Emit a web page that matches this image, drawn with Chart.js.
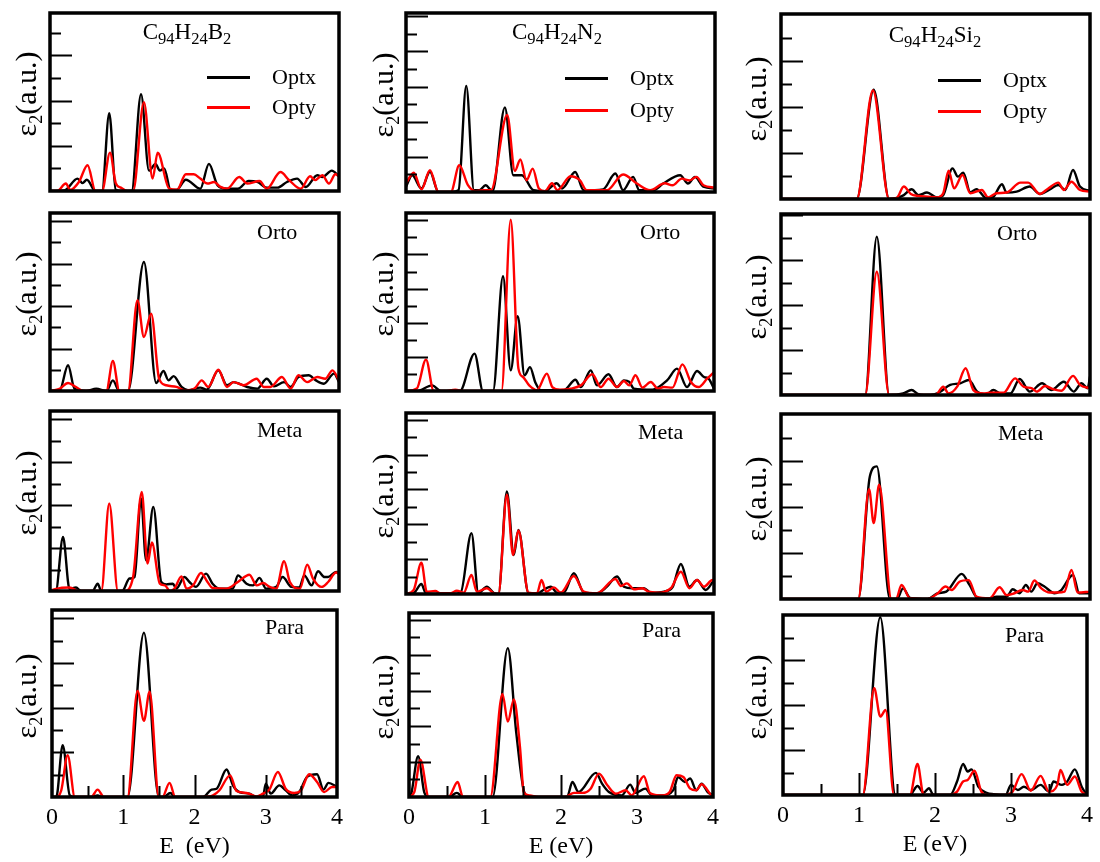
<!DOCTYPE html>
<html>
<head>
<meta charset="utf-8">
<script src="https://cdn.jsdelivr.net/npm/chart.js@4.4.1/dist/chart.umd.min.js"></script>
<style>
  body { margin: 0; background: #fff; width: 1100px; height: 862px; overflow: hidden; position: relative;
         font-family: "Liberation Serif", "Times New Roman", serif; color: #000; }
  canvas { position: absolute; }
  .lbl { position: absolute; white-space: nowrap; line-height: 1; }
  .ylab { font-size: 30px; transform: translate(-50%, -50%) rotate(-90deg); }
  .ttl { font-size: 23px; transform: translate(-50%, -50%); }
  .tag { font-size: 22px; transform: translateY(-50%); }
  sub { font-size: 0.72em; vertical-align: -0.35em; line-height: 0; }
  .ylab sub { font-size: 0.6em; }
  .leg { position: absolute; height: 3px; }
</style>
</head>
<body>
<script>
// eps2 spectra: [energy (eV), eps2 (a.u.)]
const b2TopOptx = [[0,0],[0.2,0.02],[0.38,0.55],[0.45,0.35],[0.51,0.5],[0.63,0],[0.72,0],[0.82,3.44],[0.91,0.05],[1.0,0],[1.13,0],[1.26,4.28],[1.37,0.9],[1.46,1.2],[1.52,0.9],[1.58,1.0],[1.67,0.05],[1.75,0.05],[1.88,0.5],[2.08,0.1],[2.2,1.2],[2.32,0.25],[2.45,0.1],[2.6,0.1],[2.75,0.45],[2.87,0.4],[3.0,0.15],[3.15,0.15],[3.28,0.4],[3.42,0.55],[3.54,0.18],[3.7,0.7],[3.77,0.62],[3.9,0.9],[4.0,0.65]];
const b2TopOpty = [[0,0],[0.1,0],[0.22,0.33],[0.28,0.05],[0.4,0.4],[0.52,1.14],[0.63,0],[0.72,0],[0.83,1.7],[0.91,0.35],[0.98,0.15],[1.07,0],[1.15,0],[1.3,3.93],[1.42,0.55],[1.49,1.69],[1.65,0.1],[1.76,0.06],[1.88,0.74],[1.99,0.74],[2.08,0.55],[2.18,0.33],[2.27,0.4],[2.36,0.18],[2.45,0.1],[2.62,0.62],[2.73,0.33],[2.9,0.44],[3.0,0.1],[3.19,0.84],[3.31,0.48],[3.47,0.1],[3.6,0.65],[3.67,0.48],[3.77,0.7],[3.86,0.33],[3.95,0.74],[4.0,0.65]];
const b2OrtoOptx = [[0,0],[0.13,0],[0.25,1.21],[0.34,0.1],[0.5,0],[0.64,0.11],[0.78,0],[0.87,0.5],[0.96,0],[1.08,0],[1.3,6.07],[1.47,0.38],[1.57,0.94],[1.64,0.5],[1.71,0.7],[1.82,0.19],[1.92,0.03],[2.08,0.16],[2.17,0.06],[2.33,0.97],[2.45,0.27],[2.54,0.42],[2.73,0.19],[2.87,0.11],[3.0,0.58],[3.1,0.22],[3.24,0.42],[3.33,0.19],[3.44,0.66],[3.58,0.74],[3.68,0.5],[3.79,0.34],[3.93,0.82],[4.0,0.42]];
const b2OrtoOpty = [[0,0],[0.13,0.1],[0.25,0.38],[0.36,0.19],[0.46,0],[0.78,0],[0.87,1.41],[0.96,0],[1.08,0],[1.21,4.27],[1.3,2.54],[1.4,3.64],[1.51,0.58],[1.61,0.27],[1.75,0.19],[1.87,0.03],[2.0,0.11],[2.1,0.5],[2.19,0.19],[2.33,1.0],[2.45,0.19],[2.54,0.42],[2.68,0.27],[2.86,0.58],[2.96,0.19],[3.05,0.19],[3.21,0.66],[3.33,0.11],[3.44,0.74],[3.56,0.42],[3.7,0.66],[3.81,0.58],[3.91,0.97],[4.0,0.5]];
const b2MetaOptx = [[0,0],[0.08,0],[0.18,2.52],[0.27,0.1],[0.36,0.16],[0.43,0],[0.59,0],[0.66,0.34],[0.71,0],[1.0,0],[1.1,0.58],[1.17,0.65],[1.26,4.31],[1.33,1.43],[1.43,3.92],[1.54,0.42],[1.61,0.31],[1.7,0.34],[1.75,0.11],[1.86,0.65],[1.93,0.42],[2.02,0.19],[2.16,0.81],[2.25,0.34],[2.35,0.11],[2.53,0.11],[2.6,0.73],[2.72,0.34],[2.81,0.26],[2.9,0.61],[2.99,0.11],[3.13,0.19],[3.22,0.65],[3.34,0.19],[3.45,0.16],[3.52,0.73],[3.62,0.26],[3.71,0.92],[3.8,0.65],[3.85,0.65],[3.96,0.89],[4.0,0.8]];
const b2MetaOpty = [[0,0],[0.08,0.1],[0.27,0.16],[0.4,0],[0.71,0],[0.82,4.08],[0.94,0],[1.03,0],[1.15,0.65],[1.27,4.62],[1.35,1.28],[1.41,2.26],[1.52,0.34],[1.59,0.26],[1.66,0],[1.72,0.1],[1.82,0.68],[1.89,0.11],[1.98,0.26],[2.09,0.84],[2.18,0.42],[2.25,0.14],[2.44,0.11],[2.6,0.42],[2.76,0.76],[2.86,0.26],[2.95,0.37],[3.04,0.19],[3.13,0.11],[3.24,1.39],[3.32,0.42],[3.46,0.11],[3.56,1.23],[3.64,0.58],[3.76,0.19],[3.85,0.42],[3.96,0.86],[4.0,0.8]];
const b2ParaOptx = [[0,0],[0.06,0],[0.15,2.32],[0.25,0.07],[0.32,0],[0.55,0],[0.64,0.07],[0.71,0],[1.06,0],[1.29,7.35],[1.5,0],[1.57,0],[1.66,0.18],[1.73,0],[2.12,0],[2.24,0.33],[2.31,0.37],[2.45,1.23],[2.54,0.52],[2.63,0.22],[2.77,0.15],[2.86,0],[2.96,0],[3.0,0.6],[3.07,0.15],[3.19,0.52],[3.28,0.3],[3.37,0.07],[3.47,0.22],[3.58,0.9],[3.72,1.02],[3.81,0.33],[3.88,0.63],[4.0,0.45]];
const b2ParaOpty = [[0,0],[0.06,0],[0.13,0.3],[0.22,1.87],[0.32,0],[0.55,0],[0.64,0.33],[0.73,0],[1.06,0],[1.2,4.75],[1.29,3.41],[1.37,4.71],[1.5,0],[1.55,0],[1.65,0.63],[1.73,0],[2.12,0],[2.26,0.07],[2.35,0.3],[2.5,0.97],[2.59,0.27],[2.73,0.18],[2.87,0.03],[2.96,0.15],[3.05,0.33],[3.17,1.12],[3.28,0.37],[3.4,0.18],[3.49,0.27],[3.61,1.02],[3.72,0.67],[3.82,0.22],[3.93,0.45],[4.0,0.45]];

const n2TopOptx = [[0,0.3],[0.08,0.95],[0.2,0.2],[0.31,1.15],[0.42,0],[0.6,0],[0.68,0.1],[0.78,6.04],[0.88,0.1],[0.95,0.1],[1.03,0.38],[1.12,0.05],[1.28,4.82],[1.39,0.95],[1.5,0.95],[1.65,0.1],[1.8,0.05],[1.95,0.5],[2.02,0.2],[2.19,1.14],[2.3,0.1],[2.55,0.15],[2.71,1.05],[2.81,0.1],[2.94,0.86],[3.02,0.1],[3.2,0.1],[3.33,0.48],[3.55,0.95],[3.65,0.48],[3.74,0.86],[3.85,0.3],[4.0,0.2]];
const n2TopOpty = [[0,0.5],[0.1,1.1],[0.2,0.15],[0.31,1.24],[0.42,0],[0.58,0],[0.69,1.52],[0.8,0.4],[0.9,0.05],[1.0,0.1],[1.1,0.1],[1.31,4.38],[1.41,1.2],[1.48,1.85],[1.56,0.67],[1.64,1.33],[1.72,0.2],[1.8,0.05],[1.89,0.5],[1.96,0.1],[2.13,0.9],[2.25,0.67],[2.34,0.1],[2.6,0.1],[2.81,1.0],[2.99,0.48],[3.16,0.1],[3.35,0.5],[3.45,0.38],[3.57,0.76],[3.67,0.66],[3.76,0.86],[3.85,0.38],[4.0,0.25]];
const n2OrtoOptx = [[0,0],[0.14,0],[0.34,0.33],[0.45,0],[0.7,0],[0.89,2.19],[1.0,0],[1.13,0],[1.26,6.72],[1.36,1.21],[1.45,4.38],[1.54,0.92],[1.61,1.4],[1.68,0.5],[1.75,0.05],[2.05,0.05],[2.2,0.66],[2.27,0.23],[2.4,1.21],[2.48,0.33],[2.63,0.98],[2.74,0.23],[2.83,0.62],[2.9,0.53],[2.96,0.14],[3.2,0.08],[3.39,0.62],[3.52,1.31],[3.65,0.23],[3.78,1.17],[3.87,0.82],[3.93,0.72],[4.0,0.14]];
const n2OrtoOpty = [[0,0],[0.14,0.14],[0.26,1.84],[0.36,0],[0.5,0],[0.64,0.08],[0.75,0],[1.24,0],[1.36,10.04],[1.46,1.31],[1.52,0.82],[1.6,0.33],[1.7,0.05],[1.83,1.02],[1.9,0.23],[2.0,0.08],[2.14,0.14],[2.27,0.33],[2.42,0.98],[2.53,0.23],[2.63,0.72],[2.74,0.23],[2.83,0.59],[2.9,0.33],[2.98,0.92],[3.07,0.2],[3.18,0.53],[3.27,0.14],[3.35,0.23],[3.46,0.2],[3.59,1.56],[3.7,0.53],[3.8,0.23],[3.91,0.72],[4.0,1.11]];
const n2MetaOptx = [[0,0],[0.1,0.05],[0.2,0.57],[0.25,0.1],[0.35,0],[0.6,0],[0.71,0.08],[0.85,3.49],[0.94,0.05],[1.05,0.42],[1.14,0.05],[1.2,0],[1.31,5.88],[1.4,2.24],[1.46,3.68],[1.59,0.05],[1.7,0],[1.77,0.19],[1.88,0.42],[1.96,0.08],[2.05,0.08],[2.18,1.19],[2.31,0.08],[2.48,0.04],[2.61,0.42],[2.74,1.0],[2.83,0.42],[2.94,0.33],[3.09,0.33],[3.18,0.08],[3.35,0.14],[3.46,0.38],[3.57,1.72],[3.68,0.42],[3.78,0.8],[3.89,0.23],[4.0,0.8]];
const n2MetaOpty = [[0,0],[0.1,0.23],[0.2,1.8],[0.27,0.13],[0.38,0.17],[0.45,0.04],[0.58,0.04],[0.66,0.19],[0.75,0.08],[0.85,1.09],[0.92,0.13],[1.05,0.33],[1.14,0.04],[1.2,0],[1.31,5.69],[1.39,2.24],[1.46,3.64],[1.59,0.08],[1.7,0.04],[1.76,0.8],[1.82,0.13],[1.92,0.38],[2.01,0.08],[2.18,1.03],[2.31,0.13],[2.48,0.04],[2.72,0.86],[2.79,0.46],[2.87,0.61],[2.96,0.27],[3.07,0.33],[3.15,0.13],[3.26,0.08],[3.44,0.33],[3.57,1.28],[3.68,0.33],[3.78,0.8],[3.87,0.42],[3.98,0.8],[4.0,0.8]];
const n2ParaOptx = [[0,0],[0.03,0.19],[0.12,2.3],[0.2,0.28],[0.26,0],[0.52,0],[0.63,0.23],[0.71,0],[1.1,0],[1.3,8.4],[1.41,3.68],[1.52,0.23],[1.59,0],[2.08,0],[2.15,0.85],[2.23,0.28],[2.46,1.36],[2.54,0.75],[2.63,0.28],[2.8,0.09],[2.91,0.7],[2.98,0.23],[3.11,0.47],[3.2,0.09],[3.33,0.09],[3.48,0.4],[3.54,1.13],[3.63,0.85],[3.7,1.04],[3.78,0.38],[3.85,0.75],[3.93,0.28],[4.0,0.09]];
const n2ParaOpty = [[0,0],[0.07,0.28],[0.15,2.11],[0.26,0],[0.52,0],[0.64,0.85],[0.71,0],[1.07,0],[1.23,5.81],[1.3,4.25],[1.38,5.51],[1.46,2.83],[1.51,0.28],[1.59,0.09],[1.7,0],[2.05,0],[2.17,0.23],[2.28,0.23],[2.39,0.47],[2.5,1.32],[2.61,0.66],[2.72,0.19],[2.85,0.38],[2.93,0.09],[3.09,1.17],[3.17,0.23],[3.33,0.09],[3.43,0.28],[3.52,1.23],[3.61,1.13],[3.7,0.47],[3.78,0.38],[3.85,0.72],[3.98,0.09],[4.0,0.05]];

const si2TopOptx = [[0,0],[0.98,0],[1.2,4.74],[1.4,0],[1.5,0.05],[1.59,0.17],[1.69,0.42],[1.78,0.17],[1.89,0.28],[2.02,0.07],[2.1,0.17],[2.22,1.33],[2.29,0.97],[2.36,1.14],[2.45,0.3],[2.53,0.42],[2.66,0.03],[2.75,0.1],[2.86,0.64],[2.92,0.28],[3.05,0.32],[3.22,0.54],[3.35,0.22],[3.48,0.42],[3.59,0.61],[3.68,0.39],[3.78,1.26],[3.87,0.54],[4.0,0.35]];
const si2TopOpty = [[0,0],[0.98,0],[1.19,4.71],[1.4,0],[1.5,0.05],[1.59,0.54],[1.68,0.22],[1.78,0.13],[1.9,0.1],[2.02,0.07],[2.1,0.25],[2.17,1.23],[2.24,0.46],[2.35,1.04],[2.45,0.25],[2.6,0.39],[2.68,0.07],[2.79,0.25],[2.92,0.28],[3.1,0.71],[3.2,0.71],[3.35,0.22],[3.46,0.46],[3.59,0.71],[3.66,0.39],[3.76,0.75],[3.87,0.39],[4.0,0.32]];
const si2OrtoOptx = [[0,0],[1.09,0],[1.24,7.05],[1.4,0],[1.58,0.07],[1.69,0.22],[1.78,0.04],[1.93,0],[2.04,0.1],[2.19,0.45],[2.32,0.52],[2.43,0.67],[2.54,0.15],[2.66,0.04],[2.75,0.22],[2.84,0.07],[2.97,0.07],[3.09,0.71],[3.22,0.15],[3.38,0.52],[3.5,0.22],[3.66,0.59],[3.79,0.15],[3.89,0.52],[3.97,0.3],[4.0,0.82]];
const si2OrtoOpty = [[0,0],[1.09,0],[1.24,5.49],[1.4,0],[2.0,0],[2.1,0.37],[2.17,0.07],[2.28,0.37],[2.39,1.19],[2.49,0.22],[2.62,0.07],[2.7,0.1],[2.88,0.1],[3.03,0.74],[3.14,0.37],[3.25,0.3],[3.31,0.15],[3.42,0.4],[3.53,0.25],[3.63,0.19],[3.78,0.85],[3.87,0.45],[4.0,0.3]];
const si2MetaOptx = [[0,0],[1.0,0],[1.15,5.31],[1.24,5.75],[1.41,0],[1.5,0],[1.58,0.46],[1.67,0.05],[1.9,0],[2.03,0.25],[2.14,0.32],[2.34,1.09],[2.44,0.61],[2.55,0.03],[2.7,0.03],[2.79,0.1],[2.92,0.1],[3.0,0.42],[3.09,0.25],[3.17,0.61],[3.24,0.32],[3.32,0.68],[3.41,0.54],[3.54,0.25],[3.62,0.36],[3.78,1.04],[3.86,0.25],[4.0,0.25]];
const si2MetaOpty = [[0,0],[1.0,0],[1.14,4.76],[1.2,3.29],[1.27,4.95],[1.43,0],[1.49,0],[1.56,0.61],[1.67,0.03],[1.9,0],[2.03,0.25],[2.13,0.54],[2.21,0.39],[2.31,0.75],[2.43,0.82],[2.53,0.1],[2.7,0.03],[2.83,0.51],[2.92,0.17],[3.0,0.22],[3.13,0.39],[3.2,0.32],[3.28,0.8],[3.37,0.46],[3.48,0.28],[3.58,0.28],[3.67,0.32],[3.76,1.26],[3.84,0.28],[4.0,0.32]];
const si2ParaOptx = [[0,0],[1.05,0],[1.28,7.91],[1.48,0],[1.67,0],[1.77,0.4],[1.85,0.1],[1.92,0.3],[1.98,0],[2.2,0],[2.29,0.6],[2.37,1.38],[2.43,1.04],[2.48,1.14],[2.57,0.37],[2.68,0.1],[2.77,0.04],[2.93,0],[3.0,0.45],[3.09,0.22],[3.17,0.37],[3.26,0.22],[3.39,0.45],[3.5,0.15],[3.56,0.6],[3.67,0.45],[3.74,0.6],[3.84,1.14],[3.93,0.37],[4.0,0]];
const si2ParaOpty = [[0,0],[1.05,0],[1.2,4.75],[1.28,3.49],[1.35,3.78],[1.46,0],[1.67,0],[1.77,1.38],[1.85,0],[2.2,0],[2.29,0.15],[2.37,0.6],[2.43,0.67],[2.52,1.08],[2.61,0.15],[2.68,0],[2.93,0],[3.02,0.15],[3.14,0.93],[3.26,0.19],[3.39,0.85],[3.5,0.15],[3.61,0.45],[3.65,1.11],[3.74,0.45],[3.84,0.82],[3.93,0.15],[4.0,0]];

const compounds = ['C<sub>94</sub>H<sub>24</sub>B<sub>2</sub>', 'C<sub>94</sub>H<sub>24</sub>N<sub>2</sub>', 'C<sub>94</sub>H<sub>24</sub>Si<sub>2</sub>'];
const rowTags = ['', 'Orto', 'Meta', 'Para'];
const seriesNames = ['Optx', 'Opty'];
const seriesColors = ['#000000', '#ff0000'];
const energyTicks = [0, 1, 2, 3, 4];
const xTitles = ['E  (eV)', 'E (eV)', 'E (eV)'];
const yTop = [[7.88, 8.38, 8.39, 8.37], [10.19, 10.43, 10.38, 10.38], [8.03, 8.06, 8.02, 8.01]];

const spectra = [
  [[b2TopOptx, b2TopOpty], [b2OrtoOptx, b2OrtoOpty], [b2MetaOptx, b2MetaOpty], [b2ParaOptx, b2ParaOpty]],
  [[n2TopOptx, n2TopOpty], [n2OrtoOptx, n2OrtoOpty], [n2MetaOptx, n2MetaOpty], [n2ParaOptx, n2ParaOpty]],
  [[si2TopOptx, si2TopOpty], [si2OrtoOptx, si2OrtoOpty], [si2MetaOptx, si2MetaOpty], [si2ParaOptx, si2ParaOpty]]
];

// frame boxes on the page: left, top, right, bottom
const frames = [
  [[50, 13, 339, 191], [50, 213, 339, 391], [50, 411, 339, 591], [50, 610, 339, 797]],
  [[406, 13, 715, 192], [406, 213, 714, 391], [406, 413, 714, 594], [407, 613, 715, 797]],
  [[781, 14, 1090, 199], [781, 214, 1090, 395], [781, 414, 1090, 599], [781, 615, 1089, 795]]
];

const FONT = '"Liberation Serif", "Times New Roman", serif';
const PX = 10, PY = 3, AXIS_H = 64;

// box + inward ticks, like the original plot style
const frameTicks = {
  id: 'frameTicks',
  afterDraw(chart, args, opts) {
    const { ctx, chartArea: a, scales: { x, y } } = chart;
    ctx.save();
    ctx.strokeStyle = '#000';
    ctx.lineWidth = 2;
    ctx.beginPath();
    for (let v = 1; v < y.max - 0.05; v++) {
      const py = Math.round(y.getPixelForValue(v)) + 0.5;
      ctx.moveTo(a.left, py);
      ctx.lineTo(a.left + (v % 2 === 0 ? 22 : 11), py);
    }
    if (opts.xTicks) {
      for (let v = 0.5; v < 4; v += 0.5) {
        const px = Math.round(x.getPixelForValue(v)) + 0.5;
        ctx.moveTo(px, a.bottom);
        ctx.lineTo(px, a.bottom - (v % 1 === 0 ? 22 : 11));
      }
    }
    ctx.stroke();
    ctx.lineWidth = 3.5;
    ctx.strokeRect(a.left, a.top, a.right - a.left, a.bottom - a.top);
    ctx.restore();
  }
};

function toXY(pts) {
  return pts.map(([e, v]) => ({ x: e, y: v }));
}

function addLabel(cls, html, left, top) {
  const el = document.createElement('div');
  el.className = 'lbl ' + cls;
  el.innerHTML = html;
  el.style.left = left + 'px';
  el.style.top = top + 'px';
  document.body.appendChild(el);
  return el;
}

function makePanel(c, r) {
  const [L, T, R, B] = frames[c][r];
  const bottomRow = r === 3;
  const cv = document.createElement('canvas');
  cv.width = R - L + 2 * PX;
  cv.height = B - T + PY + (bottomRow ? AXIS_H : PY);
  cv.style.left = (L - PX) + 'px';
  cv.style.top = (T - PY) + 'px';
  document.body.appendChild(cv);

  const [optx, opty] = spectra[c][r];
  const line = (name, pts, color) => ({
    label: name,
    data: toXY(pts),
    borderColor: color,
    borderWidth: 2.4,
    pointRadius: 0,
    fill: false,
    cubicInterpolationMode: 'monotone'
  });

  const xAxis = { type: 'linear', min: 0, max: 4, display: false };
  if (bottomRow) {
    Object.assign(xAxis, {
      display: true,
      grid: { display: false, drawTicks: false },
      border: { display: false },
      afterBuildTicks: s => { s.ticks = energyTicks.map(v => ({ value: v })); },
      afterFit: s => { s.height = AXIS_H; },
      ticks: { color: '#000', padding: 6, maxRotation: 0, font: { family: FONT, size: 24 } },
      title: { display: true, text: xTitles[c], color: '#000', padding: 0, font: { family: FONT, size: 24 } }
    });
  }

  new Chart(cv, {
    type: 'line',
    data: {
      // first dataset is painted last, so Opty sits on top like the original
      datasets: [line(seriesNames[1], opty, seriesColors[1]), line(seriesNames[0], optx, seriesColors[0])]
    },
    options: {
      responsive: false,
      animation: false,
      events: [],
      layout: { padding: { left: PX, right: PX, top: PY, bottom: bottomRow ? 0 : PY } },
      plugins: { legend: { display: false }, tooltip: { enabled: false }, frameTicks: { xTicks: bottomRow } },
      scales: {
        x: xAxis,
        y: { min: 0, max: yTop[c][r], display: false }
      }
    },
    plugins: [frameTicks]
  });
}

for (let c = 0; c < 3; c++) {
  for (let r = 0; r < 4; r++) makePanel(c, r);
}

// y axis labels
const yLabX = [26, 383, 756];
for (let c = 0; c < 3; c++) {
  for (let r = 0; r < 4; r++) {
    const [, T, , B] = frames[c][r];
    addLabel('ylab', '&epsilon;<sub>2</sub>(a.u.)', yLabX[c], (T + B) / 2 - 8);
  }
}

// compound titles
const titlePos = [[187, 31], [557, 31], [935, 34]];
compounds.forEach((t, c) => addLabel('ttl', t, titlePos[c][0], titlePos[c][1]));

// legends in the top row
const legendPos = [[207, 77, 107], [565, 78, 110], [938, 80, 111]];
legendPos.forEach(([x, y1, y2]) => {
  [y1, y2].forEach((yy, i) => {
    const ln = document.createElement('div');
    ln.className = 'leg';
    ln.style.left = x + 'px';
    ln.style.top = (yy - 1.5) + 'px';
    ln.style.width = '43px';
    ln.style.background = seriesColors[i];
    document.body.appendChild(ln);
    addLabel('tag', seriesNames[i], x + 65, yy);
  });
});

// Orto / Meta / Para tags
const tagPos = [
  [null, [257, 232], [257, 430], [265, 627]],
  [null, [640, 232], [638, 432], [642, 630]],
  [null, [997, 233], [998, 433], [1005, 635]]
];
for (let c = 0; c < 3; c++) {
  for (let r = 1; r < 4; r++) addLabel('tag', rowTags[r], tagPos[c][r][0], tagPos[c][r][1]);
}
</script>
</body>
</html>
